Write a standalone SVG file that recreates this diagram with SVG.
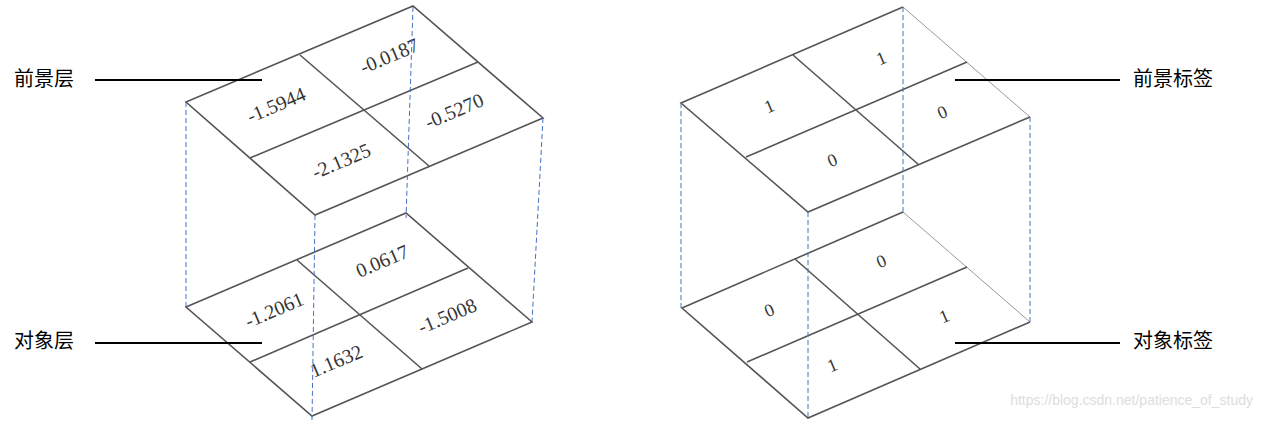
<svg xmlns="http://www.w3.org/2000/svg" width="1263" height="423" viewBox="0 0 1263 423">
<style>
.e{fill:none;stroke:#555;stroke-width:1.6}
.l{fill:none;stroke:#999;stroke-width:1}
.d{fill:none;stroke:#4472c4;stroke-width:1;stroke-dasharray:5,3}
.k{stroke:#000;stroke-width:2}
.v{font-family:"Liberation Serif",serif;font-size:20px;fill:#333;text-anchor:middle;dominant-baseline:middle}
.b{font-family:"Liberation Serif",serif;font-size:18px;fill:#333;text-anchor:middle;dominant-baseline:middle}
.c{font-family:"Noto Sans CJK SC",sans-serif;font-size:20px;fill:#000;dominant-baseline:middle}
</style>
<rect width="1263" height="423" fill="#fff"/>
<g id="left-top">
<polygon class="e" points="186,102 413,6 543,118 315,215"/>
<line class="e" x1="300" y1="55" x2="429" y2="166"/>
<line class="e" x1="250" y1="158" x2="478" y2="62"/>
<text class="v" transform="translate(277,107) rotate(-23)">-1.5944</text>
<text class="v" transform="translate(390,58) rotate(-23)">-0.0187</text>
<text class="v" transform="translate(342,163) rotate(-23)">-2.1325</text>
<text class="v" transform="translate(455,113) rotate(-23)">-0.5270</text>
</g>
<g id="left-bottom">
<polygon class="e" points="186,307 406,213 532,322 312,416"/>
<line class="e" x1="297" y1="260" x2="422" y2="369"/>
<line class="e" x1="250" y1="362" x2="468" y2="268"/>
<text class="v" transform="translate(383,263) rotate(-23)">0.0617</text>
<text class="v" transform="translate(275,312) rotate(-23)">-1.2061</text>
<text class="v" transform="translate(448,318) rotate(-23)">-1.5008</text>
<text class="v" transform="translate(337,363) rotate(-23)">1.1632</text>
</g>
<g id="right-top">
<polyline class="l" points="903,7 1030,117"/>
<polyline class="e" points="903,7 681,103 808,212 1030,117"/>
<line class="e" x1="793" y1="55" x2="919" y2="165"/>
<line class="e" x1="746" y1="157" x2="967" y2="62"/>
<text class="b" transform="translate(770,108) rotate(-23)">1</text>
<text class="b" transform="translate(882,60) rotate(-23)">1</text>
<text class="b" transform="translate(833,162) rotate(-23)">0</text>
<text class="b" transform="translate(943,114) rotate(-23)">0</text>
</g>
<g id="right-bottom">
<polyline class="l" points="903,212 1030,322"/>
<polyline class="e" points="903,212 682,308 808,418 1030,322"/>
<line class="e" x1="795" y1="259" x2="920" y2="369"/>
<line class="e" x1="747" y1="362" x2="967" y2="267"/>
<text class="b" transform="translate(882,263) rotate(-23)">0</text>
<text class="b" transform="translate(770,312) rotate(-23)">0</text>
<text class="b" transform="translate(945,318) rotate(-23)">1</text>
<text class="b" transform="translate(833,367) rotate(-23)">1</text>
</g>
<g id="connectors">
<line class="d" x1="186" y1="102" x2="186" y2="307"/>
<line class="d" x1="413" y1="7" x2="406" y2="218"/>
<line class="d" x1="543" y1="118" x2="532" y2="322"/>
<line class="d" x1="315" y1="215" x2="312" y2="421"/>
<line class="d" x1="681" y1="103" x2="681" y2="308"/>
<line class="d" x1="903" y1="7" x2="903" y2="212"/>
<line class="d" x1="1030" y1="117" x2="1030" y2="322"/>
<line class="d" x1="808" y1="212" x2="808" y2="418"/>
<line class="k" x1="95" y1="80" x2="262" y2="80"/>
<line class="k" x1="95" y1="343" x2="262" y2="343"/>
<line class="k" x1="955" y1="80" x2="1120" y2="80"/>
<line class="k" x1="955" y1="343" x2="1120" y2="343"/>
</g>
<g id="labels">
<text class="c" x="14" y="81">前景层</text>
<text class="c" x="14" y="343">对象层</text>
<text class="c" x="1133" y="81">前景标签</text>
<text class="c" x="1133" y="343">对象标签</text>
</g>
<text x="1253" y="405" font-family="Liberation Sans,sans-serif" font-size="14" fill="#ddd" text-anchor="end">https://blog.csdn.net/patience_of_study</text>
</svg>
